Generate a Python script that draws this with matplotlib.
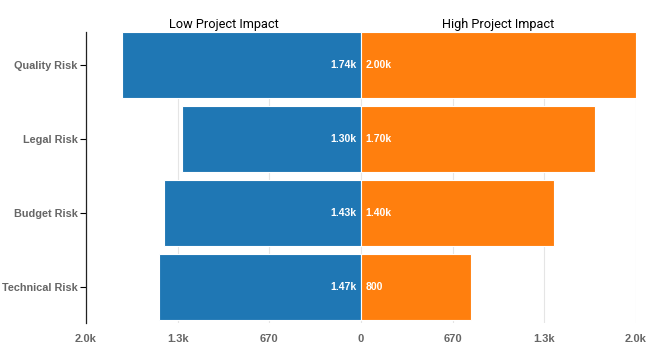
import matplotlib.pyplot as plt
import numpy as np

plt.rcParams['font.family'] = ['Liberation Sans', 'DejaVu Sans']

risks = ['Quality Risk', 'Legal Risk', 'Budget Risk', 'Technical Risk']
low_impact = [1740, 1300, 1430, 1470]
high_impact = [2000, 1700, 1400, 800]
tick_vals = [-2000, -1333.33, -666.67, 0, 666.67, 1333.33, 2000]
tick_text = ['2.0k', '1.3k', '670', '0', '670', '1.3k', '2.0k']

blue = '#1f77b4'
orange = '#ff7f0e'


def fmt(v):
    if v >= 1000:
        return '%.2fk' % (v / 1000)
    return str(v)


fig = plt.figure(figsize=(6.49, 3.62), dpi=100)
ax = fig.add_axes([0.1325, 0.108, 0.8475, 0.8036])

y = np.arange(len(risks))
ax.barh(y, [-v for v in low_impact], height=0.89, color=blue,
        edgecolor='white', linewidth=0.8, zorder=2)
ax.barh(y, high_impact, height=0.89, color=orange,
        edgecolor='white', linewidth=0.8, zorder=2)

for i in range(len(risks)):
    ax.text(-30, y[i], fmt(low_impact[i]), ha='right', va='center',
            color='white', fontsize=7.5, fontweight='bold', zorder=3)
    ax.text(30, y[i], fmt(high_impact[i]), ha='left', va='center',
            color='white', fontsize=7.5, fontweight='bold', zorder=3)

ax.set_xlim(-2000, 2000)
ax.set_ylim(3.48, -0.445)
ax.set_xticks(tick_vals)
ax.set_xticklabels(tick_text)
ax.set_yticks(y)
ax.set_yticklabels(risks)
ax.tick_params(axis='x', length=0, pad=8, labelsize=8, labelcolor='#666666')
ax.tick_params(axis='y', length=4, width=0.8, pad=2, labelsize=7.8,
               labelcolor='#666666')
for lab in ax.get_xticklabels() + ax.get_yticklabels():
    lab.set_fontweight('bold')

ax.grid(axis='x', color='#e5e5e5', linewidth=0.8, zorder=0)
ax.set_axisbelow(True)
for s in ['top', 'right', 'bottom']:
    ax.spines[s].set_visible(False)
ax.spines['left'].set_color('#222222')
ax.spines['left'].set_linewidth(0.9)

ax.text(-1000, -0.455, 'Low Project Impact', ha='center', va='bottom',
        fontsize=9.2, color='black', family=['Roboto', 'DejaVu Sans'])
ax.text(1000, -0.455, 'High Project Impact', ha='center', va='bottom',
        fontsize=9.2, color='black', family=['Roboto', 'DejaVu Sans'])

plt.savefig('out.png', dpi=100)
